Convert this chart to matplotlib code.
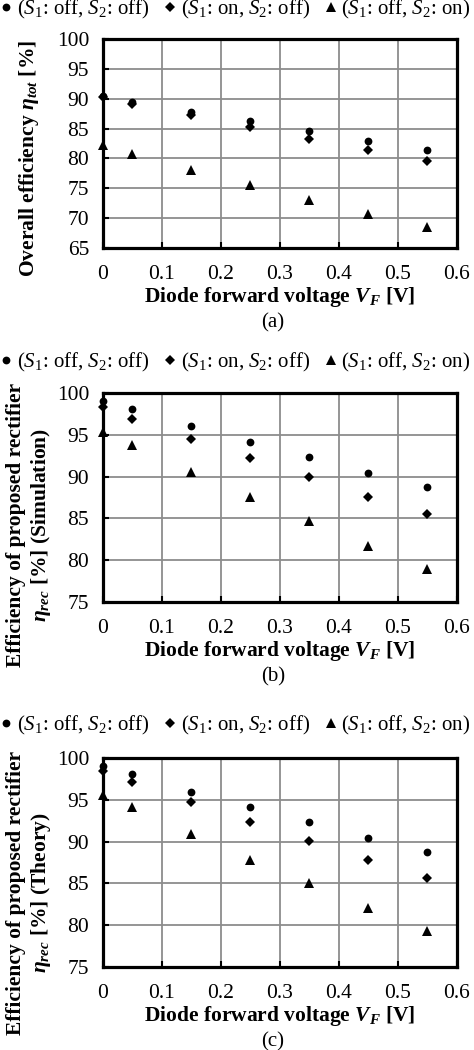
import numpy as np
import matplotlib
matplotlib.use("Agg")
import matplotlib.pyplot as plt
from matplotlib.lines import Line2D

plt.rcParams['font.family'] = ['Liberation Serif', 'DejaVu Serif']
plt.rcParams['mathtext.fontset'] = 'custom'
plt.rcParams['mathtext.rm'] = 'Liberation Serif'
plt.rcParams['mathtext.it'] = 'Liberation Serif:italic'
plt.rcParams['mathtext.bf'] = 'Liberation Serif:bold'
plt.rcParams['mathtext.bfit'] = 'Liberation Serif:bold:italic'

# diode forward voltage [V]
vf = [0, 0.05, 0.15, 0.25, 0.35, 0.45, 0.55]

# (a) overall efficiency [%]
tot_off_off = [90.4, 89.4, 87.7, 86.2, 84.6, 83.0, 81.4]
tot_on_off = [90.3, 89.2, 87.3, 85.2, 83.3, 81.4, 79.5]
tot_off_on = [82.2, 80.8, 78.1, 75.5, 73.1, 70.7, 68.6]

# (b) rectifier efficiency, simulation [%]
sim_off_off = [99.0, 98.05, 96.0, 94.1, 92.3, 90.45, 88.7]
sim_on_off = [98.3, 96.9, 94.5, 92.2, 89.9, 87.6, 85.5]
sim_off_on = [95.3, 93.8, 90.6, 87.6, 84.65, 81.7, 78.9]

# (c) rectifier efficiency, theory [%]
th_off_off = [99.1, 98.1, 96.0, 94.1, 92.3, 90.5, 88.75]
th_on_off = [98.4, 97.1, 94.7, 92.3, 90.1, 87.8, 85.7]
th_off_on = [95.6, 94.1, 90.95, 87.85, 85.1, 82.1, 79.3]

case_labels = [r'($S_1$: off, $S_2$: off)', r'($S_1$: on, $S_2$: off)',
               r'($S_1$: off, $S_2$: on)']
markers = ['o', 'D', '^']
msizes = [5.6, 5.6, 7.0]

panels = [
    ((tot_off_off, tot_on_off, tot_off_on), (65, 100),
     r'Overall efficiency $\mathbfit{\eta_{tot}}$ [%]', '(a)', (-0.175, 0.43)),
    ((sim_off_off, sim_on_off, sim_off_on), (75, 100),
     'Efficiency of proposed rectifier\n' + r'$\mathbfit{\eta_{rec}}$ [%] (Simulation)', '(b)',
     (-0.14, 0.37)),
    ((th_off_off, th_on_off, th_off_on), (75, 100),
     'Efficiency of proposed rectifier\n' + r'$\mathbfit{\eta_{rec}}$ [%] (Theory)', '(c)',
     (-0.14, 0.355)),
]

fig = plt.figure(figsize=(4.74, 10.50), dpi=100)
ax_bottoms = [0.7638, 0.4267, 0.0790]
legend_y = [0.991, 0.655, 0.309]

for (series, ylim, ylabel, tag, lab_xy), bot, ly in zip(panels, ax_bottoms, legend_y):
    ax = fig.add_axes([0.2173, bot, 0.7468, 0.199])
    for vals, m, ms in zip(series, markers, msizes):
        ax.plot(vf, vals, linestyle='none', marker=m, markersize=ms,
                markeredgewidth=0, color='black', clip_on=False, zorder=3)
    ax.set_xlim(0, 0.6)
    ax.set_ylim(*ylim)
    ax.set_xticks(np.arange(0, 0.61, 0.1))
    ax.set_xticklabels(['0', '0.1', '0.2', '0.3', '0.4', '0.5', '0.6'])
    ax.set_yticks(np.arange(ylim[0], ylim[1] + 1, 5))
    ax.grid(True, color='#8c8c8c', linewidth=1.3)
    ax.set_axisbelow(True)
    for s in ax.spines.values():
        s.set_linewidth(2.3)
    ax.tick_params(direction='in', length=4, width=1.5, labelsize=15.5)
    ax.tick_params(axis='x', pad=12)
    ax.tick_params(axis='y', pad=10)
    ax.set_xlabel(r'Diode forward voltage $\mathbfit{V_F}$ [V]', fontsize=15.5,
                  fontweight='bold', labelpad=1)
    ax.set_ylabel(ylabel, fontsize=15.5, fontweight='bold', linespacing=1.2)
    ax.yaxis.set_label_coords(*lab_xy)
    ax.text(0.48, -0.36, tag, transform=ax.transAxes, ha='center',
            va='center', fontsize=15)

    handles = [Line2D([], [], linestyle='none', marker=m, markersize=ms,
                      markeredgewidth=0, color='black')
               for m, ms in zip(markers, msizes)]
    fig.legend(handles, case_labels, loc='center', bbox_to_anchor=(0.497, ly),
               ncol=3, frameon=False, fontsize=15, handlelength=0.5,
               handletextpad=0.25, columnspacing=0.75, borderaxespad=0)

fig.savefig('out.png', dpi=100)
